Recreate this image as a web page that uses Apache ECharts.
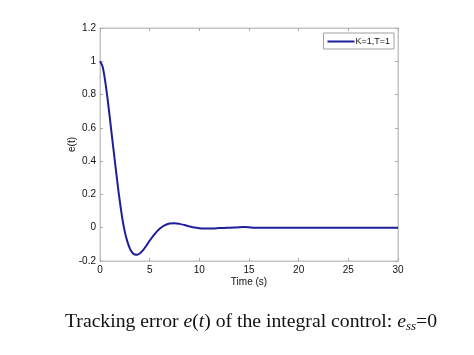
<!DOCTYPE html>
<html>
<head>
<meta charset="utf-8">
<script src="https://cdn.jsdelivr.net/npm/echarts@6/dist/echarts.min.js"></script>
<style>html,body{margin:0;padding:0;background:#fff;}#c{width:474px;height:355px;}</style>
</head>
<body>
<div id="c"></div>
<script>
var timeValues = [0, 0.25, 0.5, 0.75, 1.0, 1.25, 1.5, 1.75, 2.0, 2.25, 2.5, 2.75, 3.0, 3.25, 3.5, 3.75, 4.0, 4.25, 4.5, 4.75, 5.0, 5.5, 6.0, 6.5, 7.0, 7.5, 8.0, 8.5, 9.0, 9.5, 10.0, 10.5, 11.0, 11.5, 12.0, 12.5, 13.0, 13.5, 14.0, 14.5, 15.0, 15.5, 16, 17, 18, 19, 20, 21, 22, 23, 24, 25, 26, 27, 28, 29, 30];
var errorValues = [1.000, 0.970, 0.890, 0.780, 0.655, 0.525, 0.398, 0.272, 0.157, 0.055, -0.025, -0.082, -0.124, -0.150, -0.161, -0.162, -0.155, -0.141, -0.122, -0.100, -0.078, -0.038, -0.006, 0.014, 0.025, 0.027, 0.023, 0.016, 0.008, 0.001, -0.003, -0.005, -0.005, -0.004, -0.002, -0.001, 0.000, 0.001, 0.003, 0.004, 0.003, 0.000, 0, 0, 0, 0, 0, 0, 0, 0, 0, 0, 0, 0, 0, 0, 0];
var seriesName = 'K=1,T=1';
var xTicks = [0, 5, 10, 15, 20, 25, 30];
var yTicks = [-0.2, 0, 0.2, 0.4, 0.6, 0.8, 1, 1.2];

var data = timeValues.map(function (t, i) { return [t, errorValues[i]]; });
var chart = echarts.init(document.getElementById('c'), null, {renderer: 'canvas'});
var lab = {color: '#111', fontSize: 10, fontFamily: 'Liberation Sans, Arial, sans-serif'};
var axisLineGray = {show: true, onZero: false, lineStyle: {color: '#c4c4c4', width: 1}};
var tick = {show: true, inside: true, length: 3, lineStyle: {color: '#aaa'}};
var serif = 'Liberation Serif, Times New Roman, serif';
chart.setOption({
  animation: false,
  backgroundColor: '#ffffff',
  title: {
    left: 60, top: 306,
    text: '{a|Tracking error }{i|e}{a|(}{i|t}{a|) of the integral control: }{i|e}{s|ss}{a|=0}',
    textStyle: {
      fontWeight: 'normal',
      rich: {
        a: {fontFamily: serif, fontSize: 19.7, fontWeight: 'normal', color: '#111'},
        i: {fontFamily: serif, fontSize: 19.7, fontWeight: 'normal', fontStyle: 'italic', color: '#111'},
        s: {fontFamily: serif, fontSize: 13, fontWeight: 'normal', fontStyle: 'italic', color: '#111', verticalAlign: 'bottom', padding: [9, 0, 0, 0]}
      }
    }
  },
  legend: {
    right: 80, top: 33,
    itemWidth: 27, itemHeight: 2, itemGap: 2,
    padding: [4, 4, 3, 4],
    borderColor: '#a0a0a0', borderWidth: 1, borderRadius: 0,
    backgroundColor: '#fff',
    textStyle: {fontSize: 9, color: '#111', fontFamily: 'Liberation Sans, Arial, sans-serif', padding: [0, 0, 0, -4]},
    data: [{name: seriesName, icon: 'rect'}]
  },
  grid: {left: 100, right: 76, top: 28, bottom: 94, show: true, borderColor: '#c4c4c4', borderWidth: 1},
  xAxis: [{
    type: 'value', min: 0, max: 30, interval: 5,
    name: 'Time (s)', nameLocation: 'middle', nameGap: 16, nameMoveOverlap: false,
    nameTextStyle: lab,
    axisLine: axisLineGray,
    axisTick: tick,
    axisLabel: Object.assign({margin: 4}, lab),
    splitLine: {show: false}
  }, {
    type: 'value', min: 0, max: 30, interval: 5, position: 'top',
    axisLine: axisLineGray,
    axisTick: tick,
    axisLabel: {show: false}, splitLine: {show: false}
  }],
  yAxis: [{
    type: 'value', min: -0.2, max: 1.2, interval: 0.2,
    name: 'e(t)', nameLocation: 'middle', nameGap: 23, nameRotate: 90, nameMoveOverlap: false,
    nameTextStyle: lab,
    axisLine: axisLineGray,
    axisTick: tick,
    axisLabel: Object.assign({margin: 4, formatter: function (v) { return String(Math.round(v * 10) / 10); }}, lab),
    splitLine: {show: false}
  }, {
    type: 'value', min: -0.2, max: 1.2, interval: 0.2, position: 'right',
    axisLine: axisLineGray,
    axisTick: tick,
    axisLabel: {show: false}, splitLine: {show: false}
  }],
  series: [{
    name: seriesName, type: 'line', data: data, showSymbol: false, smooth: 0.3,
    lineStyle: {color: '#1e1e9c', width: 2}, itemStyle: {color: '#1e1e9c'}
  }]
});
</script>
</body>
</html>
